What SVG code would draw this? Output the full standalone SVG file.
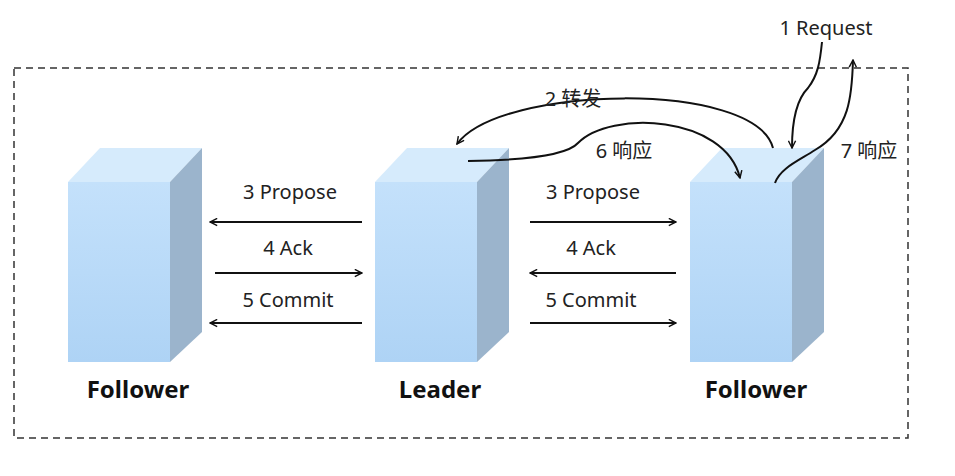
<svg xmlns="http://www.w3.org/2000/svg" width="955" height="476" viewBox="0 0 955 476">
<defs>
<marker id="ah" viewBox="0 0 10 10" refX="9" refY="5" markerWidth="9" markerHeight="9" orient="auto-start-reverse" markerUnits="userSpaceOnUse"><path d="M1,1 L9,5 L1,9" fill="none" stroke="#111" stroke-width="1.6"/></marker>
<linearGradient id="fr" x1="0" y1="0" x2="0" y2="1"><stop offset="0" stop-color="#c4e1fb"/><stop offset="1" stop-color="#aed3f5"/></linearGradient>
</defs>
<style>
.fr{fill:url(#fr)}.tp{fill:#d6ebfc}.sd{fill:#9bb4cc}
.t{font-family:"Noto Sans","Noto Sans CJK SC",sans-serif;font-size:20px;fill:#222;text-anchor:middle}
.n{font-family:"Noto Sans",sans-serif;font-size:24px;font-weight:bold;fill:#111;text-anchor:middle}
.c{fill:none;stroke:#111;stroke-width:2}
</style>
<rect width="955" height="476" fill="#fff"/>
<rect x="14" y="68" width="894" height="370" fill="none" stroke="#333" stroke-width="1.5" stroke-dasharray="7,5"/>
<g id="follower1"><polygon class="tp" points="68,182 100,148 202,148 170,182"/><polygon class="sd" points="170,182 202,148 202,332 170,362"/><rect class="fr" x="68" y="182" width="102" height="180"/><text class="n" x="138" y="398">Follower</text></g>
<g id="leader"><polygon class="tp" points="375,182 407,148 509,148 477,182"/><polygon class="sd" points="477,182 509,148 509,332 477,362"/><rect class="fr" x="375" y="182" width="102" height="180"/><text class="n" x="440" y="398">Leader</text></g>
<g id="follower2"><polygon class="tp" points="690,182 722,148 824,148 792,182"/><polygon class="sd" points="792,182 824,148 824,332 792,362"/><rect class="fr" x="690" y="182" width="102" height="180"/><text class="n" x="756" y="398">Follower</text></g>
<g id="connectors">
<line class="c" x1="362" y1="222" x2="210" y2="222" marker-end="url(#ah)"/>
<line class="c" x1="215" y1="273" x2="362" y2="273" marker-end="url(#ah)"/>
<line class="c" x1="362" y1="323" x2="210" y2="323" marker-end="url(#ah)"/>
<line class="c" x1="530" y1="222" x2="676" y2="222" marker-end="url(#ah)"/>
<line class="c" x1="676" y1="273" x2="530" y2="273" marker-end="url(#ah)"/>
<line class="c" x1="530" y1="323" x2="676" y2="323" marker-end="url(#ah)"/>
<path class="c" d="M773,148 C755,80 500,85 457,144" marker-end="url(#ah)"/>
<path class="c" d="M468,161 C540,160 570,152 578,143 C610,110 725,115 740,178" marker-end="url(#ah)"/>
<path class="c" d="M822,42 C820,62 818,75 808,88 C796,100 792,120 792,148" marker-end="url(#ah)"/>
<path class="c" d="M775,183 C780,168 800,160 815,150 C850,130 852,95 853,60" marker-end="url(#ah)"/>
</g>
<g id="labels">
<text class="t" x="290" y="199">3 Propose</text><text class="t" x="288" y="255">4 Ack</text><text class="t" x="288" y="307">5 Commit</text>
<text class="t" x="593" y="199">3 Propose</text><text class="t" x="591" y="255">4 Ack</text><text class="t" x="591" y="307">5 Commit</text>
<text class="t" x="573" y="106">2 转发</text><text class="t" x="624" y="158">6 响应</text><text class="t" x="869" y="158">7 响应</text>
<text class="t" x="826" y="35">1 Request</text>
</g>
</svg>
